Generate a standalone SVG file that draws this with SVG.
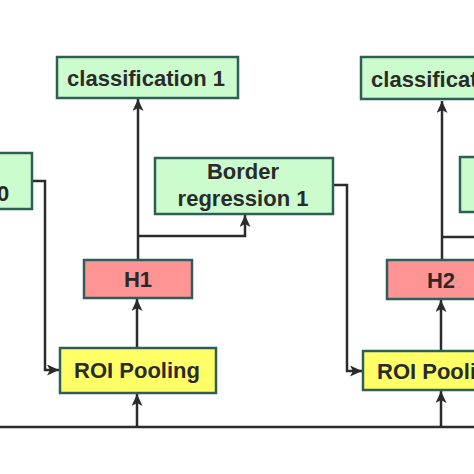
<svg xmlns="http://www.w3.org/2000/svg" width="474" height="474" viewBox="0 0 474 474">
<style>
.g{fill:#ccfcce;stroke:#2d5f58;stroke-width:2.5}
.p{fill:#ff9494;stroke:#2d5f58;stroke-width:2.5}
.y{fill:#ffff66;stroke:#2d5f58;stroke-width:2.5}
.t{font-family:"Liberation Sans",Arial,sans-serif;font-weight:bold;font-size:22px;fill:#2a2a2a}
.c{text-anchor:middle}
.l{fill:none;stroke:#2b2b2b;stroke-width:2.5}
</style>
<defs>
<marker id="a" markerUnits="userSpaceOnUse" markerWidth="14" markerHeight="12" refX="12" refY="5.5" orient="auto">
<path d="M0,0 L12,5.5 L0,11 L3,5.5 Z" fill="#2b2b2b"/>
</marker>
</defs>
<rect width="474" height="474" fill="#fff"/>
<g id="connectors">
<line class="l" x1="0" y1="427" x2="474" y2="427"/>
<line class="l" x1="137" y1="427" x2="137" y2="394" marker-end="url(#a)"/>
<line class="l" x1="441" y1="427" x2="441" y2="391" marker-end="url(#a)"/>
<line class="l" x1="137" y1="348" x2="137" y2="299" marker-end="url(#a)"/>
<line class="l" x1="441" y1="350" x2="441" y2="300" marker-end="url(#a)"/>
<polyline class="l" points="138,260 138,99" marker-end="url(#a)"/>
<polyline class="l" points="138,236 245,236 245,215" marker-end="url(#a)"/>
<polyline class="l" points="442,260 442,101" marker-end="url(#a)"/>
<polyline class="l" points="442,237 474,237"/>
<polyline class="l" points="32,181 45,181 45,370 59,370" marker-end="url(#a)"/>
<polyline class="l" points="333,185 347,185 347,371 362,371" marker-end="url(#a)"/>
</g>
<g id="border0">
<rect class="g" x="-146" y="153" width="178" height="56"/>
<text class="t" x="-3" y="201">0</text>
</g>
<g id="cls1">
<rect class="g" x="57" y="57" width="181" height="41"/>
<text class="t" x="67" y="86" textLength="158">classification 1</text>
</g>
<g id="border1">
<rect class="g" x="155" y="158" width="178" height="56"/>
<text class="t c" x="243" y="179">Border</text>
<text class="t c" x="243" y="206">regression 1</text>
</g>
<g id="h1">
<rect class="p" x="84" y="260" width="108" height="38"/>
<text class="t c" x="138" y="287">H1</text>
</g>
<g id="roi1">
<rect class="y" x="60" y="348" width="156" height="45"/>
<text class="t c" x="137" y="378">ROI Pooling</text>
</g>
<g id="cls2">
<rect class="g" x="361" y="57" width="181" height="42"/>
<text class="t" x="371" y="87" textLength="158">classification 2</text>
</g>
<g id="border2">
<rect class="g" x="460" y="157" width="178" height="55"/>
</g>
<g id="h2">
<rect class="p" x="387" y="260" width="108" height="39"/>
<text class="t c" x="441" y="288">H2</text>
</g>
<g id="roi2">
<rect class="y" x="363" y="351" width="156" height="39"/>
<text class="t" x="377" y="379">ROI Pooling</text>
</g>
</svg>
